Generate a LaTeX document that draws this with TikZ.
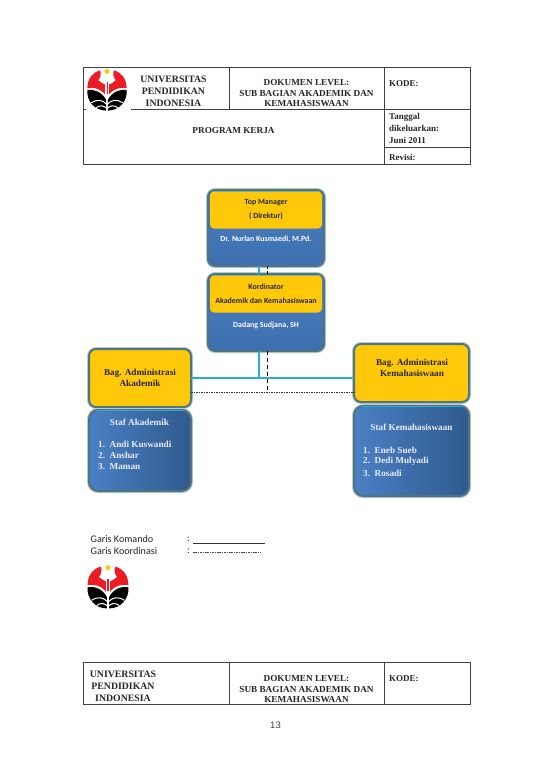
\documentclass[tikz,border=0pt]{standalone}
\usepackage{fontspec}
\setmainfont{Liberation Serif}
\newfontfamily\carl{Carlito}
\newfontfamily\helv{Liberation Sans}
\definecolor{edgeC}{HTML}{4F7580}
\definecolor{haloC}{HTML}{B9CBCF}
\definecolor{cyanL}{HTML}{29ABE2}
\definecolor{gold}{HTML}{FFC90A}
\definecolor{blueA}{HTML}{4A80C4}
\definecolor{blueC}{HTML}{3D6FAE}
\definecolor{blueB}{HTML}{2F5A8C}
\definecolor{rim}{HTML}{2FA8D8}
\definecolor{rule}{HTML}{404040}
\definecolor{logored}{HTML}{ED1C24}
\tikzset{
  x=1pt,y=-1pt,
  tabletext/.style={font=\bfseries\fontsize{9.2}{10.5}\selectfont,align=center,text=black!85,inner sep=0},
  univtext/.style={font=\bfseries\fontsize{9.8}{12}\selectfont,align=center,text=black!85,inner sep=0},
  tableleft/.style={font=\bfseries\fontsize{9}{10}\selectfont,align=left,anchor=west,text=black!85,inner sep=0},
  tablerule/.style={draw=rule,line width=.8pt},
  halo/.style={preaction={draw=haloC,line width=4pt}},
  outerbox/.style={anchor=north west,inner sep=0,outer sep=0,draw=edgeC,line width=2pt,rounded corners=7pt,halo,top color=blueA,bottom color=blueC},
  goldside/.style={anchor=north west,inner sep=0,outer sep=0,draw=edgeC,line width=2pt,rounded corners=7pt,halo,fill=gold},
  goldbox/.style={anchor=north west,inner sep=0,outer sep=0,rounded corners=4pt,fill=gold,align=center},
  staffbox/.style={anchor=north west,inner sep=0,outer sep=0,draw=edgeC,line width=2pt,rounded corners=9pt,halo,left color=blueA,right color=blueB},
  ctext/.style={font=\carl\bfseries\fontsize{7.9}{14.5}\selectfont,align=center,inner sep=0},
  stext/.style={font=\bfseries\fontsize{9.2}{11}\selectfont,align=center,inner sep=0},
  ltext/.style={font=\bfseries\fontsize{9.2}{11.2}\selectfont,text=white!92!blue,align=left,anchor=west,inner sep=0},
  legend/.style={font=\carl\fontsize{10.1}{12}\selectfont,text=black!85,anchor=west,inner sep=0},
  komando/.style={draw=cyanL,line width=1.3pt},
  koord/.style={draw=black,line width=.9pt},
}
\newcommand{\num}[1]{\makebox[11.5pt][l]{#1}}
\newcommand{\univlogo}[3]{%
  \begin{scope}[shift={(#1,#2)},scale=#3]
    \fill[logored] (-7,-19) .. controls (-15,-17) and (-20,-10) .. (-20,-1)
      -- (-14,-1) .. controls (-10,-1) and (-4,2) .. (-1,7) -- (-1,-4)
      .. controls (-4,-5) and (-7,-7) .. (-9,-9) .. controls (-6,-12) and (-6,-16) .. (-7,-19) -- cycle;
    \fill[logored] (7,-19) .. controls (15,-17) and (20,-10) .. (20,-1)
      -- (14,-1) .. controls (10,-1) and (4,2) .. (1,7) -- (1,-4)
      .. controls (4,-5) and (7,-7) .. (9,-9) .. controls (6,-12) and (6,-16) .. (7,-19) -- cycle;
    \fill[white] (-1.6,-8) rectangle (1.6,7);
    \fill[logored] (-0.5,-7) rectangle (0.5,5);
    \fill[gold] (0,-18) circle (2.5);
    \fill[black] (-20,1) .. controls (-13,0) and (-5,3) .. (-1,11) -- (-1,22)
      .. controls (-12,22) and (-21,13) .. (-20,1) -- cycle;
    \fill[black] (20,1) .. controls (13,0) and (5,3) .. (1,11) -- (1,22)
      .. controls (12,22) and (21,13) .. (20,1) -- cycle;
    \draw[white,line width=1pt] (-16,14) .. controls (-10,10) and (-4,11) .. (0,16)
      .. controls (4,11) and (10,10) .. (16,14);
    \draw[white,line width=1pt] (-11,19) .. controls (-7,16) and (-3,17) .. (0,20)
      .. controls (3,17) and (7,16) .. (11,19);
  \end{scope}}
\begin{document}
\begin{tikzpicture}
\useasboundingbox (0,0) rectangle (550,777);
\fill[white] (0,0) rectangle (550,777);

% ---- header table
\draw[tablerule] (83,67) rectangle (470,164);
\draw[tablerule] (229,67) -- (229,109);
\draw[tablerule] (384,67) -- (384,164);
\draw[tablerule] (131,109) -- (470,109);
\draw[tablerule] (83,109) -- (86,109);
\draw[tablerule] (384,147) -- (470,147);
\univlogo{107}{89}{.98}
\node[univtext] (h1) at (173.5,91) {UNIVERSITAS\\PENDIDIKAN\\INDONESIA};
\node[tabletext] (h2) at (306.5,93.5) {DOKUMEN LEVEL:\\SUB BAGIAN AKADEMIK DAN\\KEMAHASISWAAN};
\node[tableleft] (h3) at (389,84) {KODE:};
\node[tabletext] (h4) at (233.5,130) {PROGRAM KERJA};
\node[tableleft] (h5) at (389,117) {Tanggal};
\node[tableleft] (h6) at (389,128) {dikeluarkan:};
\node[tableleft] (h7) at (389,140) {Juni 2011};
\node[tableleft] (h8) at (389,157) {Revisi:};

% ---- connector helpers
\coordinate (cmdx) at (259,0);
\coordinate (crdx) at (267,0);
\coordinate (cmdy) at (0,378);
\coordinate (crdy) at (0,392);

% ---- top manager
\node[outerbox,minimum width=116pt,minimum height=76pt] (top) at (208,190) {};
\draw[rim,line width=1pt] (212,191.5) -- (320,191.5);
\node[goldbox,minimum width=112pt,minimum height=37pt] (topg) at (210,191.5) {};
\node[ctext,text=black!85] (topt) at (266,209.5) {Top Manager\\( Direktur)};
\node[ctext,text=white] (topn) at (266,239) {Dr. Nurlan Kusmaedi, M.Pd.};

% ---- kordinator
\node[outerbox,minimum width=116pt,minimum height=77pt] (kor) at (208,274) {};
\draw[rim,line width=1pt] (212,275.5) -- (320,275.5);
\node[goldbox,minimum width=112pt,minimum height=37pt] (korg) at (210,275.5) {};
\node[ctext,text=black!85] (kort) at (266,294) {Kordinator\\Akademik dan Kemahasiswaan};
\node[ctext,text=white] (korn) at (266,325) {Dadang Sudjana, SH};

% ---- left
\node[goldside,minimum width=102pt,minimum height=58pt] (la) at (89,349) {};
\node[stext,text=black!85] (lat) at (140,378) {Bag. Administrasi\\Akademik};
\node[staffbox,minimum width=102pt,minimum height=81pt] (ls) at (89,410) {};
\draw[rim,line width=1pt] (97,410.5) -- (183,410.5);
\node[stext,text=white!92!blue] (lst) at (139.5,422) {Staf Akademik};
\node[ltext] (ls1) at (98,444.5) {\num{1.}Andi Kuswandi};
\node[ltext] (ls2) at (98,455.5) {\num{2.}Anshar};
\node[ltext] (ls3) at (98,467) {\num{3.}Maman};

% ---- right
\node[goldside,minimum width=115pt,minimum height=58pt] (ra) at (354,344) {};
\node[stext,text=black!85] (rat) at (412,368) {Bag. Administrasi\\Kemahasiswaan};
\node[staffbox,minimum width=115pt,minimum height=90pt] (rs) at (354,406) {};
\draw[rim,line width=1pt] (362,406.5) -- (461,406.5);
\node[stext,text=white!92!blue] (rst) at (411.5,427.5) {Staf Kemahasiswaan};
\node[ltext] (rs1) at (363,450) {\num{1.}Eneb Sueb};
\node[ltext] (rs2) at (363,461.5) {\num{2.}Dedi Mulyadi};
\node[ltext] (rs3) at (363,473) {\num{3.}Rosadi};

% ---- lines
\draw[komando] (top.south -| cmdx) -- (kor.north -| cmdx);
\draw[koord,dash pattern=on 3pt off 2pt] (top.south -| crdx) -- (kor.north -| crdx);
\draw[komando] (kor.south -| cmdx) -- (cmdx |- cmdy);
\draw[komando] (la.east |- cmdy) -- (ra.west |- cmdy);
\draw[koord,dash pattern=on 4pt off 3pt] (kor.south -| crdx) -- (crdx |- crdy);
\draw[draw=black!80,line width=.5pt,dash pattern=on 1.5pt off 1pt] (la.east |- crdy) -- (ra.west |- crdy);

% ---- legend
\node[legend] (l1) at (90.5,539) {Garis Komando};
\node[legend] (l2) at (90.5,551.5) {Garis Koordinasi};
\node[legend] (c1) at (187,539) {:};
\node[legend] (c2) at (187,551.5) {:};
\coordinate (lk1) at (193,543);
\coordinate (lk2) at (265,543);
\coordinate (lc1) at (193,552);
\coordinate (lc2) at (261,552);
\draw[black!80,line width=.7pt] (lk1) -- (lk2);
\draw[black!70,line width=.7pt,dash pattern=on 1.6pt off .8pt] (lc1) -- (lc2);
\univlogo{108}{586}{1.02}

% ---- footer table
\draw[tablerule] (83,662) rectangle (470,704);
\draw[tablerule] (229,662) -- (229,704);
\draw[tablerule] (384,662) -- (384,704);
\node[univtext] (f1) at (123,686) {UNIVERSITAS\\PENDIDIKAN\\INDONESIA};
\node[tabletext] (f2) at (306.5,689.5) {DOKUMEN LEVEL:\\SUB BAGIAN AKADEMIK DAN\\KEMAHASISWAAN};
\node[tableleft] (f3) at (389,678.5) {KODE:};
\node[font=\helv\fontsize{9.5}{11}\selectfont,text=black!75,inner sep=0] (pg) at (275.5,725) {13};
\end{tikzpicture}
\end{document}
